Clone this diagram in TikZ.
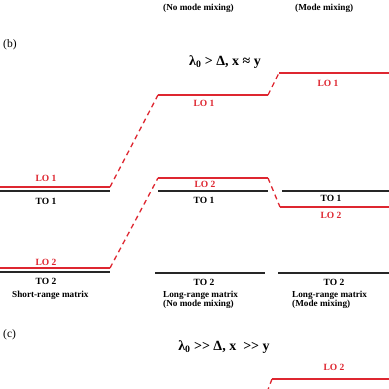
\documentclass[tikz,border=0pt]{standalone}
\usepackage{fontspec}
\setmainfont{Liberation Serif}
\definecolor{lored}{RGB}{222,38,48}
\tikzset{
  lolevel/.style    = {draw=lored, line width=1.5pt},
  tolevel/.style    = {draw=black!85, line width=1.5pt},
  lojump/.style     = {draw=lored, line width=1.3pt, dash pattern=on 5pt off 4pt},
  lolabel/.style    = {inner sep=0pt, text=lored, font=\bfseries\fontsize{9.5}{10}\selectfont},
  tolabel/.style    = {inner sep=0pt, font=\bfseries\fontsize{9.5}{10}\selectfont},
  matrixname/.style = {inner sep=0pt, anchor=north west, align=left,
                       font=\bfseries\fontsize{9.2}{8.8}\selectfont},
  regime/.style     = {inner sep=0pt, font=\bfseries\fontsize{14}{16}\selectfont},
  panel/.style      = {inner sep=0pt, anchor=west, font=\fontsize{11.5}{13}\selectfont}
}

\begin{document}
\begin{tikzpicture}[x=1pt, y=-1pt]
  \useasboundingbox (0,0) rectangle (389,389);
  \clip (0,0) rectangle (389,389);

  % tail of panel (a)
  \node [matrixname, anchor=west] (aNoMix) at (163,8) {(No mode mixing)};
  \node [matrixname, anchor=west] (aMix)   at (295,8) {(Mode mixing)};

  % panel (b)
  \node [panel]  (bTag)   at (3,45)   {(b)};
  \node [regime] (bTitle) at (225,62) {λ\textsubscript{0} > Δ, x ≈ y};

  % short-range matrix
  \draw [lolevel] (0,187) coordinate (sLOa) -- (110,187) coordinate (sLOb);
  \draw [tolevel] (0,191) -- (110,191);
  \draw [lolevel] (0,268) coordinate (sLTa) -- (110,268) coordinate (sLTb);
  \draw [tolevel] (0,272) -- (110,272);
  \node [lolabel] (sLO1) at (46,178) {LO 1};
  \node [tolabel] (sTO1) at (46,201) {TO 1};
  \node [lolabel] (sLO2) at (46,262) {LO 2};
  \node [tolabel] (sTO2) at (46,281) {TO 2};
  \node [matrixname] (sName) at (12,291) {Short-range matrix};

  % long-range matrix, no mode mixing
  \draw [lolevel] (158,95)  coordinate (nLOa) -- (268,95)  coordinate (nLOb);
  \draw [lolevel] (158,178) coordinate (nLTa) -- (268,178) coordinate (nLTb);
  \draw [tolevel] (158,191) -- (268,191);
  \draw [tolevel] (155,273) -- (265,273);
  \node [lolabel] (nLO1) at (204,103) {LO 1};
  \node [lolabel] (nLO2) at (205,184.5) {LO 2};
  \node [tolabel] (nTO1) at (204,200) {TO 1};
  \node [tolabel] (nTO2) at (204,282) {TO 2};
  \node [matrixname] (nName) at (163,291) {Long-range matrix\\(No mode mixing)};

  % long-range matrix, mode mixing
  \draw [lolevel] (279,73)  coordinate (mLOa) -- (389,73);
  \draw [tolevel] (282,191) -- (389,191);
  \draw [lolevel] (280,207) coordinate (mLTa) -- (389,207);
  \draw [tolevel] (278,273) -- (389,273);
  \node [lolabel] (mLO1) at (328,83)  {LO 1};
  \node [tolabel] (mTO1) at (331,198) {TO 1};
  \node [lolabel] (mLO2) at (331,215) {LO 2};
  \node [tolabel] (mTO2) at (334,282) {TO 2};
  \node [matrixname] (mName) at (292,291) {Long-range matrix\\(Mode mixing)};

  % shifts of the LO levels
  \draw [lojump] (sLOb) -- (nLOa);
  \draw [lojump] (sLTb) -- (nLTa);
  \draw [lojump] (nLOb) -- (mLOa);
  \draw [lojump] (nLTb) -- (mLTa);

  % panel (c)
  \node [panel]  (cTag)   at (3,335)  {(c)};
  \node [regime] (cTitle) at (224,347) {λ\textsubscript{0} >{}> Δ, x\ \ >{}> y};
  \draw [lolevel] (272,379) coordinate (cLTa) -- (389,379);
  \node [lolabel] (cLO2) at (334,367) {LO 2};
  \coordinate (cLTend) at (266,395);
  \draw [lojump] (cLTa) -- (cLTend);
\end{tikzpicture}
\end{document}
